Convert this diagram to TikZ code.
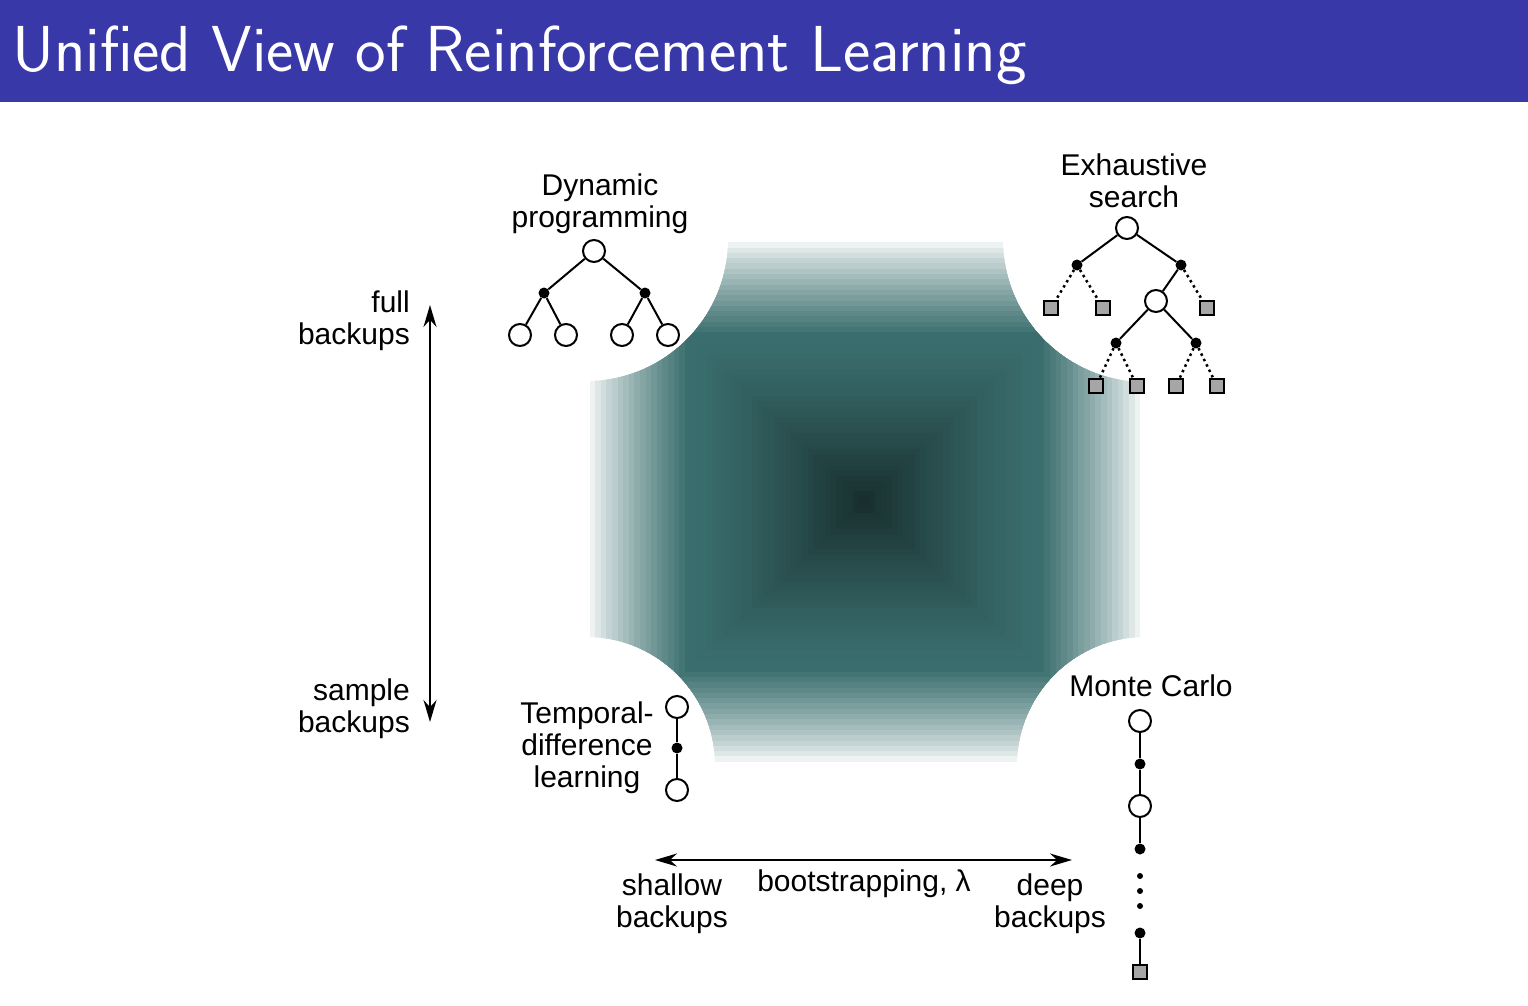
\documentclass[tikz,border=0pt]{standalone}
\usepackage{fontspec}
\setmainfont{Liberation Sans}
\usetikzlibrary{arrows.meta}
\definecolor{titlebg}{RGB}{56,56,168}
\definecolor{tealc}{RGB}{58,110,110}
\tikzset{
 lab/.style={font=\fontsize{30}{32}\selectfont, align=center, inner sep=0pt},
 oc/.style={circle, draw, line width=2pt, fill=white, minimum size=22pt, inner sep=0pt},
 fc/.style={circle, fill=black, minimum size=11pt, inner sep=0pt},
 sq/.style={rectangle, draw, line width=1.6pt, fill=gray!70, minimum size=14pt, inner sep=0pt},
 ln/.style={line width=2pt},
 dl/.style={line width=2.5pt, dash pattern=on 2.5pt off 3.5pt},
 dbl/.style={line width=2pt, {Stealth[length=22pt,width=13pt]}-{Stealth[length=22pt,width=13pt]}}
}
\begin{document}
\begin{tikzpicture}[x=1pt,y=1pt]
\useasboundingbox (0,0) rectangle (1528,-1006);
\fill[titlebg] (0,0) rectangle (1528,-102);
\node[anchor=base west, text=white, font=\sffamily\fontsize{65}{70}\selectfont, inner sep=0pt] (title) at (12,-72) {Unified View of Reinforcement Learning};
% shaded shape
\begin{scope}
\clip (728,-240) -- (1003,-240) arc[start angle=180,end angle=270,radius=142]
 -- (1145,-637) arc[start angle=90,end angle=180,radius=128]
 -- (715,-765) arc[start angle=0,end angle=90,radius=128]
 -- (587,-381) arc[start angle=270,end angle=360,radius=141] -- cycle;
\foreach \i in {0,...,50}{
 \pgfmathsetmacro\f{1-\i/50}
 \ifnum\i<18
  \pgfmathtruncatemacro\a{(\i/18)^0.8*100}
  \fill[tealc!\a!white] (864-280*\f,-502+265*\f) rectangle (864+282*\f,-502-265*\f);
 \else
  \pgfmathtruncatemacro\b{((\i-18)/32)^1.3*60}
  \fill[black!\b!tealc] (864-280*\f,-502+265*\f) rectangle (864+282*\f,-502-265*\f);
 \fi
}
\end{scope}
% DP
\node[lab] (dpl) at (600,-204) {Dynamic\\programming};
\node[oc] (d0) at (594,-251) {};
\node[fc] (d1) at (544,-293) {};
\node[fc] (d2) at (645,-293) {};
\node[oc] (d3) at (520,-335) {};
\node[oc] (d4) at (566,-335) {};
\node[oc] (d5) at (622,-335) {};
\node[oc] (d6) at (668,-335) {};
\draw[ln] (d0)--(d1) (d0)--(d2) (d1)--(d3) (d1)--(d4) (d2)--(d5) (d2)--(d6);
% Exhaustive
\node[lab] (exl) at (1134,-181) {Exhaustive\\search};
\node[oc] (e0) at (1127,-228) {};
\node[fc] (e1) at (1077,-265) {};
\node[fc] (e2) at (1181,-265) {};
\node[sq] (e3) at (1051,-308) {};
\node[sq] (e4) at (1103,-308) {};
\node[sq] (e5) at (1207,-308) {};
\node[oc] (e6) at (1156,-301) {};
\node[fc] (e7) at (1116,-343) {};
\node[fc] (e8) at (1196,-343) {};
\node[sq] (e9) at (1096,-386) {};
\node[sq] (e10) at (1137,-386) {};
\node[sq] (e11) at (1176,-386) {};
\node[sq] (e12) at (1217,-386) {};
\draw[ln] (e0)--(e1) (e0)--(e2) (e2)--(e6) (e6)--(e7) (e6)--(e8);
\draw[dl] (e1)--(e3) (e1)--(e4) (e2)--(e5) (e7)--(e9) (e7)--(e10) (e8)--(e11) (e8)--(e12);
% TD
\node[lab] (tdl) at (587,-748) {Temporal-\\difference\\learning};
\node[oc] (t0) at (677,-707) {};
\node[fc] (t1) at (677,-748) {};
\node[oc] (t2) at (677,-790) {};
\draw[ln] (t0)--(t1)--(t2);
% MC
\node[lab, anchor=base] (mcl) at (1151,-696) {Monte Carlo};
\node[oc] (m0) at (1140,-721) {};
\node[fc] (m1) at (1140,-764) {};
\node[oc] (m2) at (1140,-806) {};
\node[fc] (m3) at (1140,-849) {};
\node[fc,minimum size=6pt] (md1) at (1140,-876) {};
\node[fc,minimum size=6pt] (md2) at (1140,-891) {};
\node[fc,minimum size=6pt] (md3) at (1140,-906) {};
\node[fc] (m4) at (1140,-933) {};
\node[sq] (m5) at (1140,-972) {};
\draw[ln] (m0)--(m1)--(m2)--(m3) (m4)--(m5);
% axes
\coordinate (vt) at (430,-305);
\coordinate (vb) at (430,-722);
\draw[dbl] (vt)--(vb);
\coordinate (hl) at (655,-860);
\coordinate (hr) at (1072,-860);
\draw[dbl] (hl)--(hr);
\node[lab, align=right, anchor=east] (fb) at (410,-321) {full\\backups};
\node[lab, align=right, anchor=east] (sb) at (410,-709) {sample\\backups};
\node[lab] (shb) at (672,-904) {shallow\\backups};
\node[lab, anchor=base] (bs) at (864,-891) {bootstrapping, λ};
\node[lab] (deb) at (1050,-904) {deep\\backups};
\end{tikzpicture}
\end{document}
